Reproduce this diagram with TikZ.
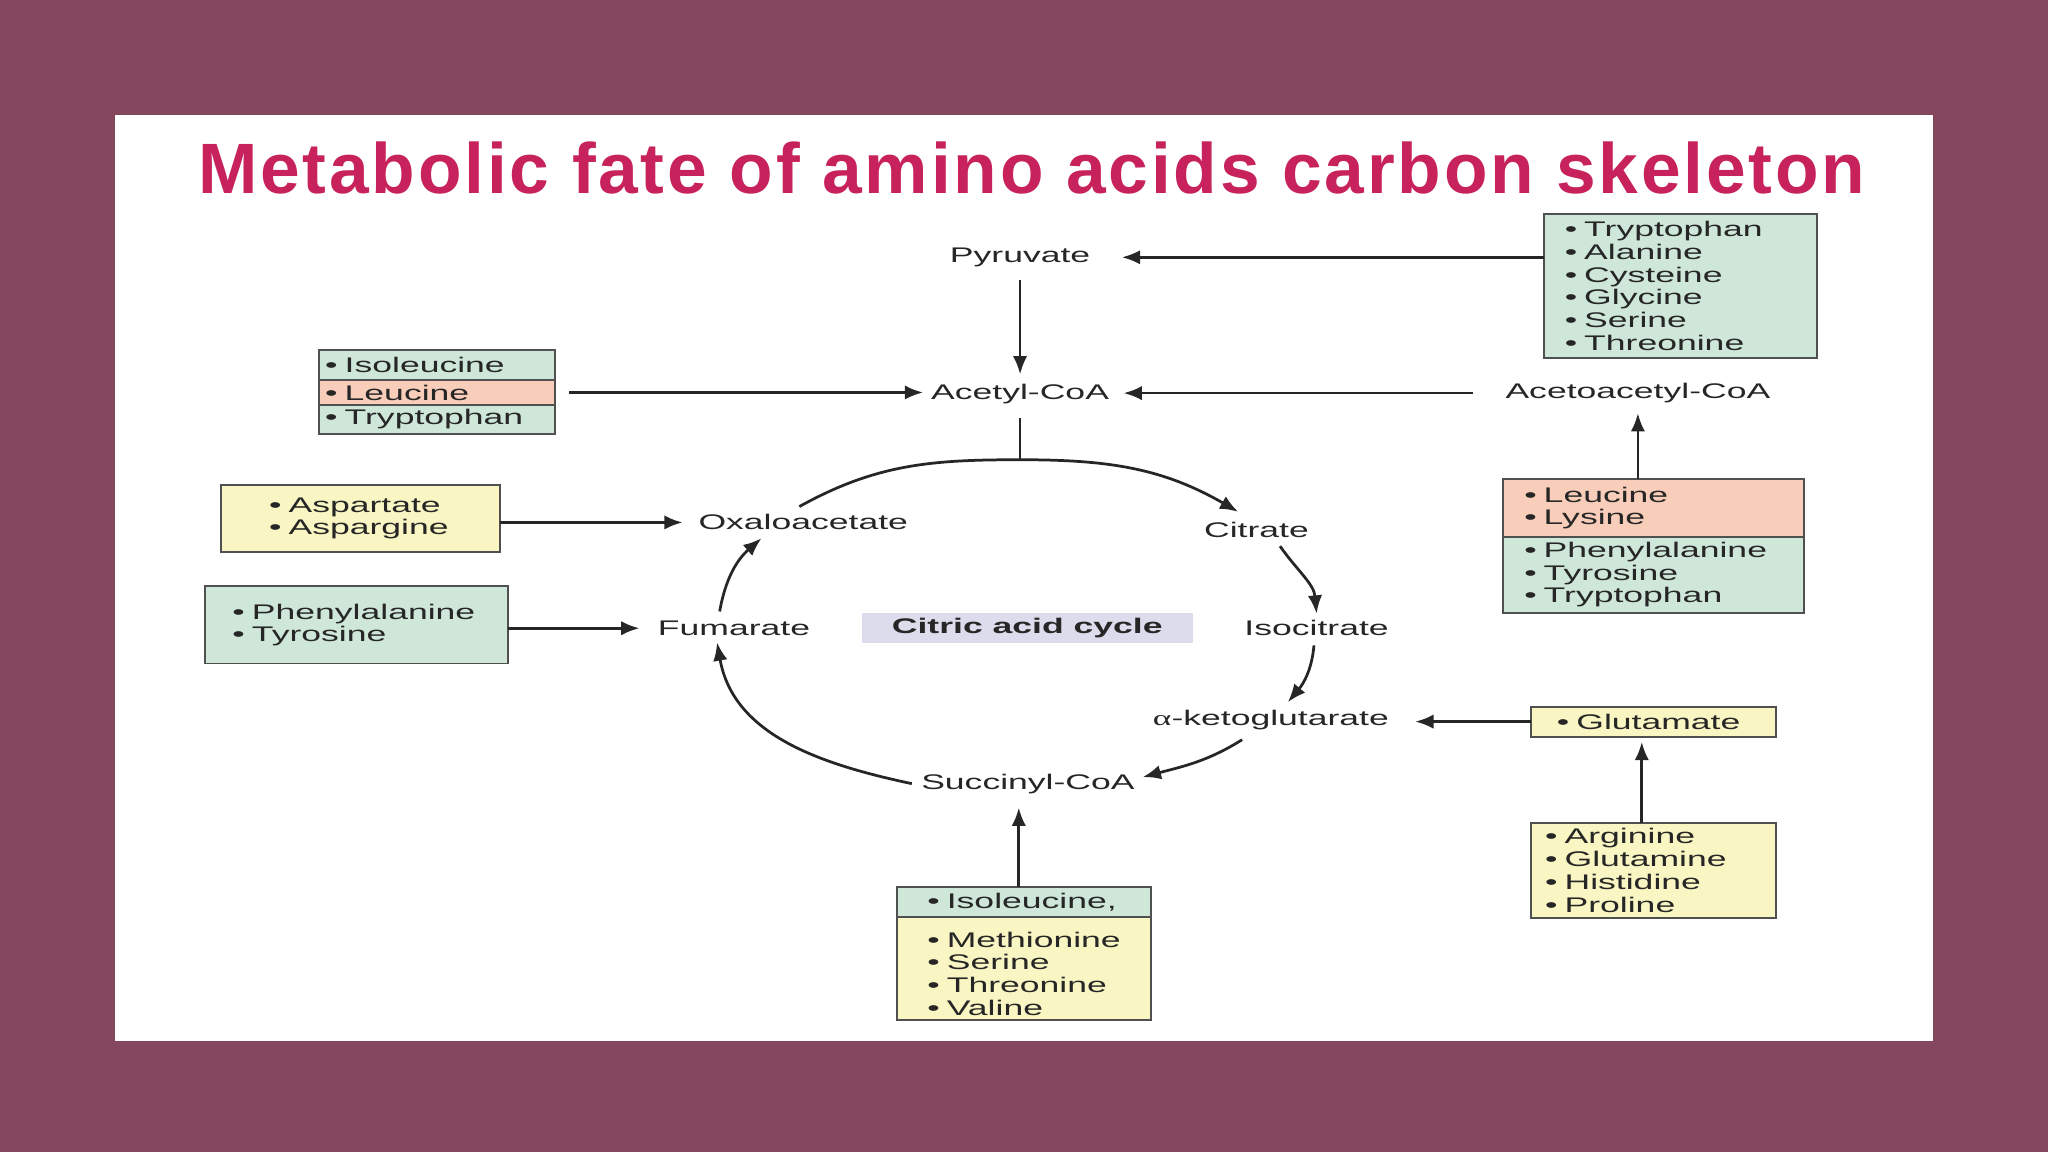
\documentclass[tikz,border=0pt]{standalone}
\usepackage{fontspec}
\usetikzlibrary{arrows.meta,positioning}
\setmainfont{Liberation Sans}
\newfontfamily\lblfont{Liberation Sans}[FakeStretch=1.68]
\newfontfamily\ttlfont{Liberation Sans}[LetterSpace=3.9]
\newfontfamily\alfont{Liberation Serif}[FakeStretch=1.68]
\hyphenpenalty=10000
\definecolor{bgpurple}{HTML}{84475E}
\definecolor{ttlred}{HTML}{C7225B}
\definecolor{mint}{HTML}{CFE7D9}
\definecolor{peach}{HTML}{F8CDBA}
\definecolor{lemon}{HTML}{FAF6C3}
\definecolor{lav}{HTML}{DDDCEC}
\definecolor{edge}{HTML}{505050}
\definecolor{ink}{HTML}{262626}

\begin{document}
\begin{tikzpicture}[x=1pt,y=1pt,
  lbl/.style={font=\lblfont\fontsize{16.2}{17.4}\selectfont, text=ink, inner sep=2pt},
  lst/.style={draw=edge, line width=1.5pt, outer sep=0pt, inner ysep=0pt, align=left,
    font=\lblfont\fontsize{16.2}{17.4}\selectfont, text=ink},
  arr/.style={draw=ink, line width=2.1pt, -{Latex[length=14pt,width=11pt]}},
  plain/.style={draw=ink, line width=2.1pt}]

\fill[bgpurple] (0,0) rectangle (1568,882);
\fill[white] (88,85) rectangle (1480,794);

\node[font=\ttlfont\bfseries\fontsize{54.6}{60}\selectfont, text=ttlred, anchor=base] (ttl)
  at (790,733.5) {Metabolic fate of amino acids carbon skeleton};

% intermediates
\node[lbl] (pyr) at (781,685) {Pyruvate};
\node[lbl] (acoa) at (781,580) {Acetyl-CoA};
\node[lbl] (aacoa) at (1254,581) {Acetoacetyl-CoA};
\node[lbl] (oaa) at (615,482) {Oxaloacetate};
\node[lbl] (cit) at (962,476) {Citrate};
\node[lbl] (icit) at (1008,401) {Isocitrate};
\node[lbl] (akg) at (973,331) {{\alfont α}-ketoglutarate};
\node[lbl] (scoa) at (787,282) {Succinyl-CoA};
\node[lbl] (fum) at (562,401) {Fumarate};
\node[lbl, font=\lblfont\bfseries\fontsize{16.2}{17.4}\selectfont, fill=lav,
  minimum width=253pt, minimum height=23pt] (cac) at (786.5,401.5) {Citric acid cycle};
\coordinate (top) at (781,530);

% amino acid boxes
\node[lst, fill=mint, text width=177pt, inner xsep=16pt, minimum height=110pt] (tr) at (1286.5,663)
  {\textbullet\ Tryptophan\\ \textbullet\ Alanine\\ \textbullet\ Cysteine\\ \textbullet\ Glycine\\ \textbullet\ Serine\\ \textbullet\ Threonine};

\node[lst, fill=mint, text width=171pt, inner xsep=5pt, minimum height=23pt] (ile) at (334.5,602.5) {\textbullet\ Isoleucine};
\node[lst, fill=peach, text width=171pt, inner xsep=5pt, minimum height=19pt, below=0pt of ile] (leu) {\textbullet\ Leucine};
\node[lst, fill=mint, text width=171pt, inner xsep=5pt, minimum height=22pt, below=0pt of leu] (trp) {\textbullet\ Tryptophan};

\node[lst, fill=peach, text width=198pt, inner xsep=16pt, minimum height=44pt] (rb1) at (1266,493)
  {\textbullet\ Leucine\\ \textbullet\ Lysine};
\node[lst, fill=mint, text width=198pt, inner xsep=16pt, minimum height=58pt, below=0pt of rb1] (rb2)
  {\textbullet\ Phenylalanine\\ \textbullet\ Tyrosine\\ \textbullet\ Tryptophan};

\node[lst, fill=lemon, text width=140pt, inner xsep=37pt, minimum height=52pt] (ab) at (276,485)
  {\textbullet\ Aspartate\\ \textbullet\ Aspargine};
\node[lst, fill=mint, text width=190pt, inner xsep=21pt, minimum height=59pt] (pt) at (273,403.5)
  {\textbullet\ Phenylalanine\\ \textbullet\ Tyrosine};

\node[lst, fill=lemon, text width=148pt, inner xsep=20pt, minimum height=23pt] (glu) at (1266,329.5)
  {\textbullet\ Glutamate};
\node[lst, fill=lemon, text width=166pt, inner xsep=11pt, minimum height=73pt] (aghp) at (1266,215.5)
  {\textbullet\ Arginine\\ \textbullet\ Glutamine\\ \textbullet\ Histidine\\ \textbullet\ Proline};

\node[lst, fill=mint, text width=148pt, inner xsep=23pt, minimum height=23pt] (bt1) at (784,191.5)
  {\textbullet~Isoleucine,};
\node[lst, fill=lemon, text width=148pt, inner xsep=23pt, minimum height=79pt, below=0pt of bt1] (bt2)
  {\rule{0pt}{19.5pt}\textbullet~Methionine\\ \textbullet~Serine\\ \textbullet~Threonine\\ \textbullet~Valine};

% feeding arrows
\draw[arr, shorten >=22pt] (tr.west |- pyr) -- (pyr.east);
\draw[arr, shorten <=7.6pt, shorten >=5.6pt] (pyr.south) -- (acoa.north);
\draw[arr, shorten <=11pt, shorten >=4pt] (leu.east) -- (leu.east -| acoa.west);
\draw[arr, shorten <=23pt, shorten >=9pt] (aacoa.west) -- (aacoa.west -| acoa.east);
\draw[arr, shorten >=5.6pt] (rb1.north -| aacoa.south) -- (aacoa.south);
\draw[plain, shorten <=8.6pt] (acoa.south) -- (top);
\draw[arr, shorten >=10pt] (ab.east |- oaa) -- (oaa.west);
\draw[arr, shorten >=12pt] (pt.east |- fum) -- (fum.west);
\draw[arr, shorten >=18pt] (glu.west) -- (glu.west -| akg.east);
\draw[arr, shorten >=4pt] ([xshift=-9pt]aghp.north) -- ([xshift=-9pt]glu.south);
\draw[arr, shorten >=8.6pt] ([xshift=-4pt]bt1.north) -- ([xshift=-4pt]bt1.north |- scoa.south);

% cycle
\draw[arr] ([shift={(-3,4)}]oaa.north) to[out=29,in=180] (top) to[out=0,in=150] ([shift={(-14,6)}]cit.north);
\draw[arr] ([shift={(18,-4)}]cit.south) to[out=-55,in=95] ([shift={(0,3)}]icit.north);
\draw[arr] ([shift={(-2,-5)}]icit.south) to[out=-95,in=50] ([shift={(13,3.6)}]akg.north);
\draw[arr] ([shift={(-22,-5.6)}]akg.south) to[out=-148,in=15] ([shift={(4,5)}]scoa.east);
\draw[arr] ([shift={(-5,0)}]scoa.west) to[out=168,in=-80] ([shift={(-13,-3)}]fum.south);
\draw[arr] ([shift={(-11,5)}]fum.north) to[out=80,in=221] ([shift={(-32,-4)}]oaa.south);
\end{tikzpicture}
\end{document}
